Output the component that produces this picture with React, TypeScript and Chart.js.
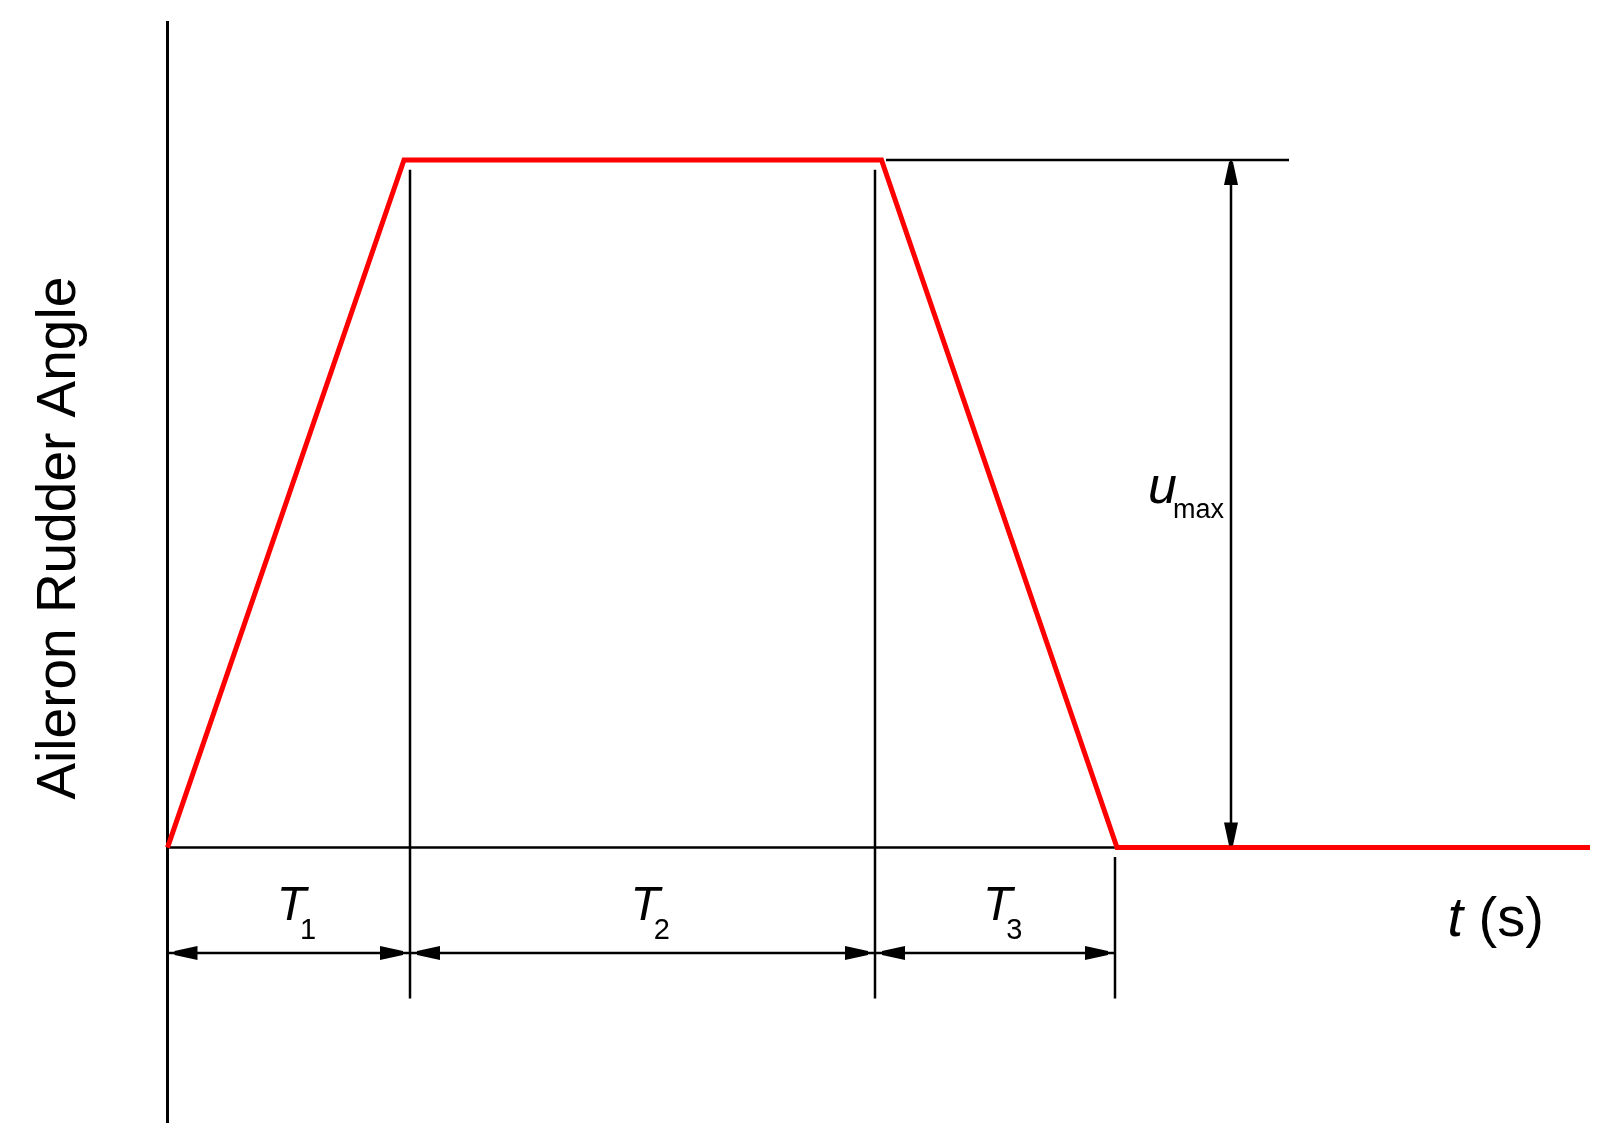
import React, { useEffect, useRef } from 'react';
import { Chart, registerables } from 'chart.js';

Chart.register(...registerables);

// ---- Data (time in arbitrary seconds, angle normalised to u_max = 1) ----
const profileTime = [0, 2.365, 7.14, 9.495, 14.225];
const profileAngle = [0, 1, 1, 0, 0];
const phaseEdges = [0, 2.425, 7.075, 9.475];
const phaseSubscripts = ['1', '2', '3'];
const uMax = 1;
const uMaxMarkerTime = 10.635;
const refLineStart = 7.185;
const refLineEnd = 11.215;
const xAxisEnd = 9.495;
const yAxisTop = 1.202;
const yAxisBottom = -0.4005;
const extensionTops = [0.986, 0.986, -0.0137];
const extensionBottom = -0.2196;
const dimensionLevel = -0.1533;
const yTitle = 'Aileron Rudder Angle';
const xTitleVar = 't';
const xTitleUnit = ' (s)';
const uLabel = 'u';
const uSub = 'max';
const phaseLetter = 'T';

const FONT = '"Liberation Sans", Arial, Helvetica, sans-serif';

function seg(x1: number, y1: number, x2: number, y2: number) {
  return [{ x: x1, y: y1 }, { x: x2, y: y2 }];
}

function blackLine(data: any[], width = 2.5, extra: any = {}) {
  return {
    data,
    showLine: true,
    borderColor: '#000000',
    backgroundColor: '#000000',
    borderWidth: width,
    pointRadius: 0,
    pointHoverRadius: 0,
    fill: false,
    tension: 0,
    borderCapStyle: 'butt',
    order: 2,
    ...extra,
  };
}

function drawHead(ctx: CanvasRenderingContext2D, tx: number, ty: number, dx: number, dy: number, len: number, half: number) {
  const bx = tx - dx * len;
  const by = ty - dy * len;
  const px = -dy;
  const py = dx;
  ctx.beginPath();
  ctx.moveTo(tx + px * 2, ty + py * 2);
  ctx.lineTo(tx - px * 2, ty - py * 2);
  ctx.lineTo(bx - px * half, by - py * half);
  ctx.lineTo(bx + px * half, by + py * half);
  ctx.closePath();
  ctx.fill();
}

const annotationPlugin = {
  id: 'diagramAnnotations',
  afterDatasetsDraw(chart: any) {
    const ctx: CanvasRenderingContext2D = chart.ctx;
    const xs = chart.scales.x;
    const ys = chart.scales.y;
    ctx.save();
    ctx.fillStyle = '#000000';

    // arrow heads on dimension lines
    chart.data.datasets.forEach((ds: any, i: number) => {
      if (!ds.arrows) return;
      const pts = chart.getDatasetMeta(i).data;
      const p0 = pts[0];
      const p1 = pts[pts.length - 1];
      let dx = p0.x - p1.x;
      let dy = p0.y - p1.y;
      const L = Math.hypot(dx, dy) || 1;
      dx /= L;
      dy /= L;
      const gap = ds.arrowGap;
      drawHead(ctx, p0.x - dx * gap, p0.y - dy * gap, dx, dy, 23, 7);
      drawHead(ctx, p1.x + dx * gap, p1.y + dy * gap, -dx, -dy, 23, 7);
    });

    // phase labels T1, T2, T3
    const dimPx = ys.getPixelForValue(dimensionLevel);
    const baseY = dimPx - 33;
    for (let i = 0; i < phaseSubscripts.length; i++) {
      const mid = (xs.getPixelForValue(phaseEdges[i]) + xs.getPixelForValue(phaseEdges[i + 1])) / 2;
      const tx = mid - 12;
      ctx.textAlign = 'left';
      ctx.textBaseline = 'alphabetic';
      ctx.font = `italic 48px ${FONT}`;
      ctx.fillText(phaseLetter, tx, baseY);
      const w = ctx.measureText(phaseLetter).width;
      ctx.font = `29px ${FONT}`;
      ctx.fillText(phaseSubscripts[i], tx + w - 6, baseY + 19);
    }

    // u_max label
    const ux = xs.getPixelForValue(uMaxMarkerTime) - 83;
    const uy = ys.getPixelForValue(uMax / 2) - 1;
    ctx.font = `italic 52px ${FONT}`;
    ctx.fillText(uLabel, ux, uy);
    const uw = ctx.measureText(uLabel).width;
    ctx.font = `27px ${FONT}`;
    ctx.fillText(uSub, ux + uw - 4, uy + 15);

    // t (s) label
    const tx0 = xs.getPixelForValue(12.8);
    const ty0 = ys.getPixelForValue(-0.128);
    ctx.font = `italic 56px ${FONT}`;
    ctx.fillText(xTitleVar, tx0, ty0);
    const tw = ctx.measureText(xTitleVar).width;
    ctx.font = `56px ${FONT}`;
    ctx.fillText(xTitleUnit, tx0 + tw, ty0);

    // y title
    ctx.translate(xs.getPixelForValue(0) - 93, ys.getPixelForValue(0.45));
    ctx.rotate(-Math.PI / 2);
    ctx.textAlign = 'center';
    ctx.font = `55px ${FONT}`;
    ctx.fillText(yTitle, 0, 0);
    ctx.restore();
  },
};

export default function App() {
  const canvasRef = useRef<HTMLCanvasElement | null>(null);

  useEffect(() => {
    if (!canvasRef.current) return;
    const datasets: any[] = [
      {
        data: profileTime.map((t, i) => ({ x: t, y: profileAngle[i] })),
        showLine: true,
        borderColor: '#ff0000',
        backgroundColor: '#ff0000',
        borderWidth: 5,
        pointRadius: 0,
        pointHoverRadius: 0,
        fill: false,
        tension: 0,
        borderJoinStyle: 'miter',
        order: 0,
      },
      blackLine(seg(0, yAxisTop, 0, yAxisBottom), 3),
      blackLine(seg(0, 0, xAxisEnd, 0), 2.5),
      blackLine(seg(refLineStart, uMax, refLineEnd, uMax), 2.5),
    ];
    for (let i = 1; i < phaseEdges.length; i++) {
      datasets.push(blackLine(seg(phaseEdges[i], extensionTops[i - 1], phaseEdges[i], extensionBottom), 2.5));
    }
    for (let i = 0; i < phaseEdges.length - 1; i++) {
      datasets.push(
        blackLine(seg(phaseEdges[i], dimensionLevel, phaseEdges[i + 1], dimensionLevel), 2.5, {
          arrows: true,
          arrowGap: 7,
        })
      );
    }
    datasets.push(
      blackLine(seg(uMaxMarkerTime, uMax, uMaxMarkerTime, 0), 2.5, { arrows: true, arrowGap: 2 })
    );

    const chart = new Chart(canvasRef.current, {
      type: 'scatter',
      data: { datasets },
      options: {
        responsive: false,
        animation: false,
        devicePixelRatio: 1,
        layout: { padding: 0 },
        plugins: { legend: { display: false }, tooltip: { enabled: false } },
        events: [],
        scales: {
          x: { type: 'linear', display: false, min: -1.675, max: 14.435 },
          y: { type: 'linear', display: false, min: -0.4282, max: 1.2327 },
        },
      } as any,
      plugins: [annotationPlugin],
    });
    return () => chart.destroy();
  }, []);

  return (
    <div style={{ position: 'fixed', left: 0, top: 0, width: 1611, height: 1142, background: '#ffffff' }}>
      <canvas ref={canvasRef} width={1611} height={1142} style={{ width: 1611, height: 1142, display: 'block' }} />
    </div>
  );
}
